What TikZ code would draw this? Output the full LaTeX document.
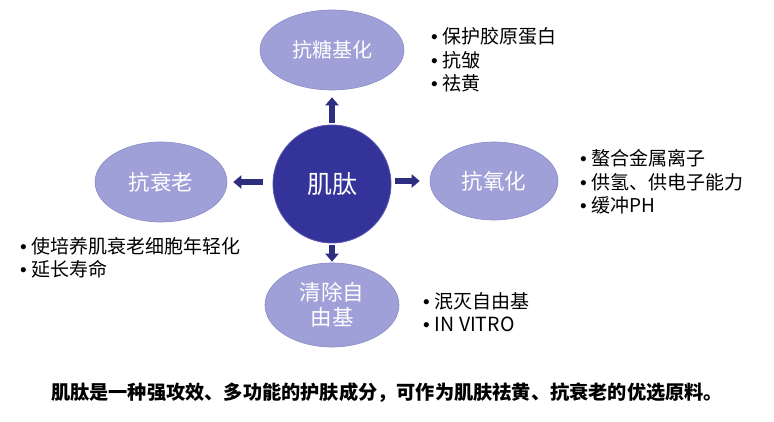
\documentclass[tikz,border=0pt]{standalone}
\usepackage{fontspec}
\setmainfont{Noto Sans CJK SC}
\newfontfamily\latinf{Liberation Sans}
\usetikzlibrary{arrows.meta,shapes.geometric}
\definecolor{hub}{HTML}{33339A}
\definecolor{hubedge}{HTML}{5A5AB0}
\definecolor{lav}{HTML}{A0A0D8}
\definecolor{lavedge}{HTML}{8A8AC8}
\definecolor{arr}{HTML}{2E2E80}
\newcommand{\bul}{{\latinf •}\hspace{5pt}}
\tikzset{
  hubnode/.style={circle, fill=hub, draw=hubedge, line width=0.8pt, minimum size=118pt, inner sep=0pt, text=white, font=\fontsize{25}{30}\selectfont},
  petal/.style={ellipse, fill=lav, draw=lavedge, line width=0.6pt, inner sep=0pt, text=white, align=center, font=\fontsize{21.5}{25}\selectfont},
  bullets/.style={anchor=west, inner sep=0pt, align=left, text=black, font=\fontsize{19}{23.5}\selectfont},
  conn/.style={draw=arr, line width=5.5pt, -{Triangle[length=8pt,width=13pt]}}
}
\begin{document}
\begin{tikzpicture}[x=1pt, y=-1pt]
\useasboundingbox (0,0) rectangle (774,422);
\fill[white] (0,0) rectangle (774,422);
\node[hubnode] (c) at (332,184) {肌肽};
\node[petal, minimum width=144pt, minimum height=80pt, font=\fontsize{20}{24}\selectfont] (top) at (332,50) {抗糖基化};
\node[petal, minimum width=132pt, minimum height=80pt] (left) at (161,182) {抗衰老};
\node[petal, minimum width=128pt, minimum height=78pt] (right) at (494,181) {抗氧化};
\node[petal, minimum width=134pt, minimum height=84pt] (bottom) at (332,305) {清除自\\由基};
\draw[conn, shorten <=2pt, shorten >=7pt] (c) -- (top);
\draw[conn, shorten <=10pt, shorten >=6pt] (c.west |- left) -- (left);
\draw[conn, shorten <=4pt, shorten >=10pt] (c.east |- right) -- (right);
\draw[conn, shorten <=2pt, shorten >=1pt] (c) -- (bottom);
\node[bullets] (tl) at (431,60) {\bul 保护胶原蛋白\\\bul 抗皱\\\bul 祛黄};
\node[bullets] (rl) at (580,182) {\bul 螯合金属离子\\\bul 供氢、供电子能力\\\bul 缓冲PH};
\node[bullets] (ll) at (20,258) {\bul 使培养肌衰老细胞年轻化\\\bul 延长寿命};
\node[bullets] (bl) at (423,312) {\bul 泯灭自由基\\\bul {\fontsize{19.5}{23.5}\selectfont IN VITRO}};
\node[inner sep=0pt, font=\fontsize{19.2}{22}\selectfont\bfseries] (cap) at (387,393) {肌肽是一种强攻效、多功能的护肤成分，可作为肌肤祛黄、抗衰老的优选原料。};
\end{tikzpicture}
\end{document}
